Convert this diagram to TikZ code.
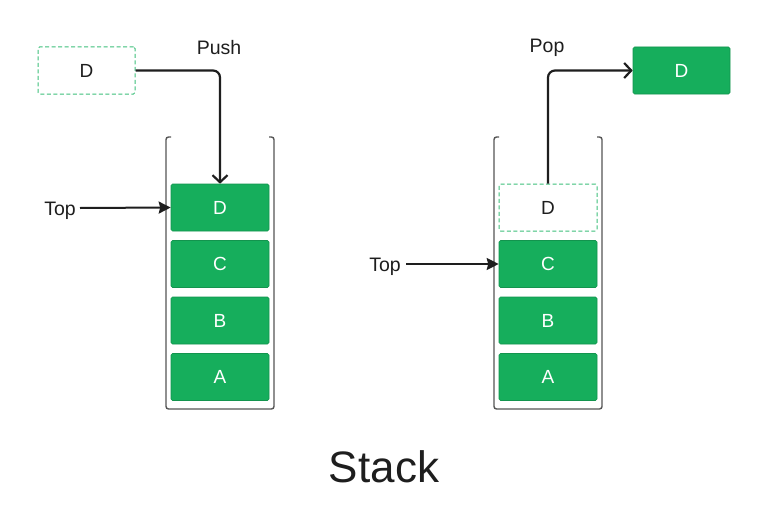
\documentclass[tikz,border=0pt]{standalone}
\usepackage{fontspec}
\setmainfont{Liberation Sans}
\usetikzlibrary{arrows.meta}
\definecolor{gfill}{HTML}{16AE5C}
\definecolor{gdash}{HTML}{3CC07A}
\definecolor{ink}{HTML}{1E1E1E}
\definecolor{wall}{HTML}{555555}
\tikzset{
  item/.style={draw=gfill!85!black, line width=0.6pt, fill=gfill, rounded corners=1.5pt, minimum width=98pt, minimum height=47pt, inner sep=0pt, text=white, font=\fontsize{19}{22}\selectfont},
  ghost/.style={draw=gdash, dashed, dash pattern=on 4pt off 2.5pt, line width=1pt, rounded corners=1.5pt, minimum width=97pt, minimum height=47pt, inner sep=0pt, text=ink, font=\fontsize{19}{22}\selectfont},
  lbl/.style={text=ink, font=\fontsize{19.5}{22}\selectfont, inner sep=0pt},
  wallline/.style={draw=wall, line width=1.4pt, rounded corners=2.5pt},
  toparrow/.style={draw=ink, line width=2pt, -{Stealth[length=12pt,width=12pt,inset=1.5pt]}},
  moveline/.style={draw=ink, line width=2.2pt, rounded corners=7pt, -{Straight Barb[length=7pt,width=15pt,line width=2.2pt]}},
}
\begin{document}
\begin{tikzpicture}[x=1pt,y=-1pt]
\useasboundingbox[fill=white] (0,0) rectangle (768,519);
% left stack
\draw[wallline] (171,137) -- (166,137) -- (166,409) -- (274,409) -- (274,137) -- (269,137);
\node[item] (lD) at (220,207.5) {D};
\node[item] (lC) at (220,264) {C};
\node[item] (lB) at (220,320.5) {B};
\node[item] (lA) at (220,377) {A};
\node[ghost] (newD) at (86.5,70.5) {D};
\node[lbl] (push) at (219,47.5) {Push};
\draw[moveline] (newD.east) -| (lD.north);
\node[lbl] (ltop) at (60,210.5) {Top};
\draw[toparrow] (80,208) -- (lD.west);
% right stack
\draw[wallline] (499,137) -- (494,137) -- (494,409) -- (602,409) -- (602,137) -- (597,137);
\node[ghost, minimum width=98pt] (rD) at (548,207.5) {D};
\node[item] (rC) at (548,264) {C};
\node[item] (rB) at (548,320.5) {B};
\node[item] (rA) at (548,377) {A};
\node[item, minimum width=97pt] (outD) at (681.5,70.5) {D};
\node[lbl] (pop) at (547,47.5) {Pop};
\draw[moveline] (rD.north) |- (outD.west);
\node[lbl] (rtop) at (385,266.5) {Top};
\draw[toparrow] (406,264) -- (rC.west);
% title
\node[text=ink, font=\fontsize{44}{48}\selectfont] (title) at (384,467) {Stack};
\end{tikzpicture}
\end{document}
